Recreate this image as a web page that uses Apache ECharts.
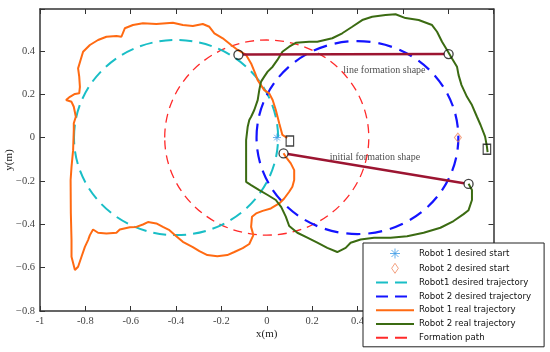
<!DOCTYPE html>
<html>
<head>
<meta charset="utf-8">
<script src="https://cdn.jsdelivr.net/npm/echarts@6/dist/echarts.min.js"></script>
<style>html,body{margin:0;padding:0;background:#fff}#c{width:550px;height:352px}</style>
</head>
<body>
<div id="c"></div>
<script>
// ---- data ----
const legendNames = ['Robot 1 desired start','Robot 2 desired start','Robot1 desired trajectory','Robot 2 desired trajectory','Robot 1 real trajectory','Robot 2 real trajectory','Formation path'];
// desired circles: [centerX, centerY, radius]
const robot1Desired = [-0.4, 0, 0.45];
const robot2Desired = [0.4, 0, 0.445];
const formationPath = [0, 0, 0.45];
const robot1Start = [[0.045, 0]];
const robot2Start = [[0.843, 0]];
const robot1Real = [[0.074,-0.072],[0.084,-0.089],[0.106,-0.119],[0.121,-0.150],[0.121,-0.196],[0.113,-0.227],[0.099,-0.250],[0.077,-0.281],[0.055,-0.304],[0.018,-0.327],[-0.018,-0.338],[-0.047,-0.350],[-0.065,-0.365],[-0.069,-0.412],[-0.059,-0.450],[-0.077,-0.491],[-0.106,-0.510],[-0.143,-0.528],[-0.174,-0.542],[-0.218,-0.547],[-0.262,-0.542],[-0.297,-0.524],[-0.326,-0.505],[-0.370,-0.481],[-0.399,-0.455],[-0.429,-0.427],[-0.458,-0.412],[-0.487,-0.396],[-0.524,-0.390],[-0.546,-0.401],[-0.575,-0.412],[-0.604,-0.414],[-0.648,-0.424],[-0.663,-0.439],[-0.707,-0.442],[-0.744,-0.439],[-0.766,-0.424],[-0.780,-0.450],[-0.788,-0.473],[-0.802,-0.504],[-0.817,-0.550],[-0.832,-0.596],[-0.846,-0.611],[-0.854,-0.604],[-0.861,-0.550],[-0.861,-0.473],[-0.864,-0.348],[-0.865,-0.196],[-0.861,-0.135],[-0.854,-0.058],[-0.851,0.035],[-0.851,0.066],[-0.842,0.096],[-0.851,0.142],[-0.861,0.165],[-0.885,0.173],[-0.868,0.188],[-0.846,0.201],[-0.827,0.204],[-0.824,0.234],[-0.827,0.281],[-0.832,0.319],[-0.821,0.358],[-0.810,0.396],[-0.780,0.427],[-0.744,0.450],[-0.707,0.465],[-0.663,0.468],[-0.641,0.465],[-0.626,0.504],[-0.590,0.519],[-0.546,0.527],[-0.487,0.524],[-0.414,0.530],[-0.370,0.519],[-0.326,0.515],[-0.282,0.524],[-0.253,0.511],[-0.231,0.481],[-0.194,0.458],[-0.157,0.427],[-0.128,0.404],[-0.091,0.381],[-0.069,0.342],[-0.051,0.296],[-0.040,0.265],[-0.011,0.219],[0.011,0.204],[0.026,0.173],[0.040,0.127],[0.055,0.066],[0.069,0.012],[0.090,-0.002]];
const robot2Real = [[0.890,-0.213],[0.905,-0.242],[0.905,-0.288],[0.890,-0.335],[0.868,-0.353],[0.824,-0.385],[0.766,-0.416],[0.692,-0.439],[0.619,-0.455],[0.546,-0.462],[0.473,-0.462],[0.414,-0.470],[0.370,-0.485],[0.348,-0.509],[0.311,-0.528],[0.267,-0.509],[0.223,-0.485],[0.179,-0.462],[0.135,-0.439],[0.099,-0.408],[0.084,-0.365],[0.064,-0.321],[0.040,-0.288],[0.004,-0.265],[-0.033,-0.242],[-0.069,-0.219],[-0.091,-0.204],[-0.091,-0.104],[-0.091,-0.012],[-0.084,0.050],[-0.077,0.081],[-0.069,0.096],[-0.055,0.127],[-0.040,0.173],[-0.033,0.219],[-0.025,0.258],[-0.011,0.281],[0.004,0.304],[0.026,0.327],[0.047,0.358],[0.069,0.396],[0.099,0.419],[0.128,0.437],[0.187,0.442],[0.223,0.442],[0.289,0.458],[0.333,0.481],[0.377,0.511],[0.421,0.542],[0.465,0.557],[0.524,0.565],[0.568,0.569],[0.612,0.551],[0.670,0.542],[0.729,0.519],[0.751,0.488],[0.773,0.442],[0.795,0.404],[0.817,0.365],[0.839,0.327],[0.846,0.288],[0.859,0.242],[0.883,0.188],[0.905,0.150],[0.927,0.096],[0.943,0.058],[0.963,0.004],[0.971,-0.042],[0.974,-0.067]];
const lineFormation = [[-0.105,0.383],[0.782,0.385]];
const initialFormation = [[0.093,-0.076],[0.870,-0.211]];
const formationMarks = [[-0.125,0.382],[0.802,0.385],[0.074,-0.073],[0.890,-0.214]];
const endSquares = [[0.102,-0.016],[0.971,-0.054]];
const annotations = [[0.519,0.312,'line formation shape'],[0.477,-0.090,'initial formation shape']];

const C = {cyan:'#19bec6', blue:'#1414ff', red:'#ff2a2a', orange:'#ff6a12', green:'#3b6b12', dark:'#9c1531', star:'#3d9be6', diamond:'#f08a62'};
const serif = 'Liberation Serif';
const diamondPath = 'path://M5,0L9,6L5,12L1,6Z';
const starPath = 'path://M0,5L10,5M5,0L5,10M1.5,1.5L8.5,8.5M8.5,1.5L1.5,8.5';

function ellipse(color, width, dash) {
  return function (params, api) {
    const c = api.coord([api.value(0), api.value(1)]);
    const s = api.size([api.value(2), api.value(2)]);
    return {type:'ellipse', shape:{cx:c[0], cy:c[1], rx:s[0], ry:s[1]},
      style:{fill:'none', stroke:color, lineWidth:width, lineDash:dash}};
  };
}
function fmtX(v){ if (Math.abs(v)<1e-9) return '0'; const a=Math.abs(v); const s=Math.abs(a-1)<1e-9?'1':a.toFixed(1); return (v<0?'-':'')+s; }
function fmtY(v){ if (v>0.5) return ''; if (Math.abs(v)<1e-9) return '0'; return (v<0?'\u2212':'')+Math.abs(v).toFixed(1); }

const axisCommon = {
  axisLine:{show:true, onZero:false, lineStyle:{color:'#333', width:1.5}},
  axisTick:{show:true, inside:true, length:5, lineStyle:{color:'#333', width:1}},
  splitLine:{show:false}
};
const chart = echarts.init(document.getElementById('c'), null, {renderer:'canvas'});
chart.setOption({
  animation:false,
  backgroundColor:'#fff',
  grid:{left:40, right:56.5, top:9, bottom:41, containLabel:false, outerBoundsMode:'none'},
  xAxis:[
    Object.assign({type:'value', min:-1, max:1, interval:0.2, position:'bottom',
      name:'x(m)', nameLocation:'middle', nameGap:18, nameMoveOverlap:false,
      nameTextStyle:{fontFamily:serif, fontSize:11, color:'#222'},
      axisLabel:{formatter:fmtX, fontFamily:serif, fontSize:10.5, color:'#444', margin:5}}, axisCommon),
    Object.assign({type:'value', min:-1, max:1, interval:0.2, position:'top', axisLabel:{show:false}}, axisCommon)
  ],
  yAxis:[
    Object.assign({type:'value', min:-0.8, max:0.593, interval:0.2, position:'left',
      name:'y(m)', nameLocation:'middle', nameGap:25, nameMoveOverlap:false,
      nameTextStyle:{fontFamily:serif, fontSize:11, color:'#222'},
      axisLabel:{formatter:fmtY, fontFamily:serif, fontSize:10.5, color:'#444', margin:5}}, axisCommon),
    Object.assign({type:'value', min:-0.8, max:0.593, interval:0.2, position:'right', axisLabel:{show:false}}, axisCommon)
  ],
  legend:{
    orient:'vertical', left:363, top:243, padding:[5,13,4,12],
    itemWidth:38, itemHeight:10, itemGap:3.8,
    backgroundColor:'#fff', borderColor:'#222', borderWidth:1, borderRadius:0,
    selectedMode:false,
    textStyle:{fontFamily:'DejaVu Sans', fontSize:8.6, color:'#111', lineHeight:10},
    data:[
      {name:legendNames[0], itemStyle:{borderWidth:1}},
      {name:legendNames[1], itemStyle:{borderWidth:1}},
      {name:legendNames[2], itemStyle:{opacity:0}},
      {name:legendNames[3], itemStyle:{opacity:0}},
      {name:legendNames[4], itemStyle:{opacity:0}},
      {name:legendNames[5], itemStyle:{opacity:0}},
      {name:legendNames[6], itemStyle:{opacity:0}}
    ]
  },
  series:[
    // legend stand-ins for the dashed circles
    {type:'line', name:legendNames[2], data:[], symbol:'none', lineStyle:{color:C.cyan, width:2, type:[12,7]}, itemStyle:{color:C.cyan}},
    {type:'line', name:legendNames[3], data:[], symbol:'none', lineStyle:{color:C.blue, width:2, type:[12,7]}, itemStyle:{color:C.blue}},
    {type:'line', name:legendNames[6], data:[], symbol:'none', lineStyle:{color:C.red, width:1.5, type:[12,7]}, itemStyle:{color:C.red}},
    // dashed circles
    {type:'custom', name:'formationCircle', data:[formationPath], renderItem:ellipse(C.red, 1.3, [9,6]), encode:{x:0, y:1}, silent:true},
    {type:'custom', name:'robot1Circle', data:[robot1Desired], renderItem:ellipse(C.cyan, 2, [13,7]), encode:{x:0, y:1}, silent:true},
    {type:'custom', name:'robot2Circle', data:[robot2Desired], renderItem:ellipse(C.blue, 2.2, [14,8]), encode:{x:0, y:1}, silent:true},
    // real trajectories
    {type:'line', name:legendNames[4], data:robot1Real, symbol:'none', showSymbol:false, lineStyle:{color:C.orange, width:2}, itemStyle:{color:C.orange}, z:3},
    {type:'line', name:legendNames[5], data:robot2Real, symbol:'none', showSymbol:false, lineStyle:{color:C.green, width:2}, itemStyle:{color:C.green}, z:3},
    // formation shapes
    {type:'line', name:'lineFormation', data:lineFormation, symbol:'none', lineStyle:{color:C.dark, width:2.5}, z:4},
    {type:'line', name:'initialFormation', data:initialFormation, symbol:'none', lineStyle:{color:C.dark, width:2.5}, z:4},
    // markers
    {type:'scatter', name:'marks', data:formationMarks, symbol:'circle', symbolSize:9,
      itemStyle:{color:'transparent', borderColor:'#111', borderWidth:1.3}, z:5},
    {type:'scatter', name:'squares', data:endSquares, symbol:'rect', symbolSize:[7.5,10],
      itemStyle:{color:'transparent', borderColor:'#111', borderWidth:1.3}, z:5},
    {type:'scatter', name:legendNames[0], data:robot1Start, symbol:starPath, symbolSize:8,
      itemStyle:{color:'transparent', borderColor:C.star, borderWidth:1}, z:6},
    {type:'scatter', name:legendNames[1], data:robot2Start, symbol:diamondPath, symbolSize:[7,9],
      itemStyle:{color:'transparent', borderColor:C.diamond, borderWidth:1}, z:6},
    // text annotations
    {type:'scatter', name:'notes', data:annotations, symbolSize:1, itemStyle:{color:'transparent'}, z:7,
      label:{show:true, position:'inside', formatter:p=>p.data[2], fontFamily:serif, fontSize:10, color:'#222'}}
  ]
});
</script>
</body>
</html>
